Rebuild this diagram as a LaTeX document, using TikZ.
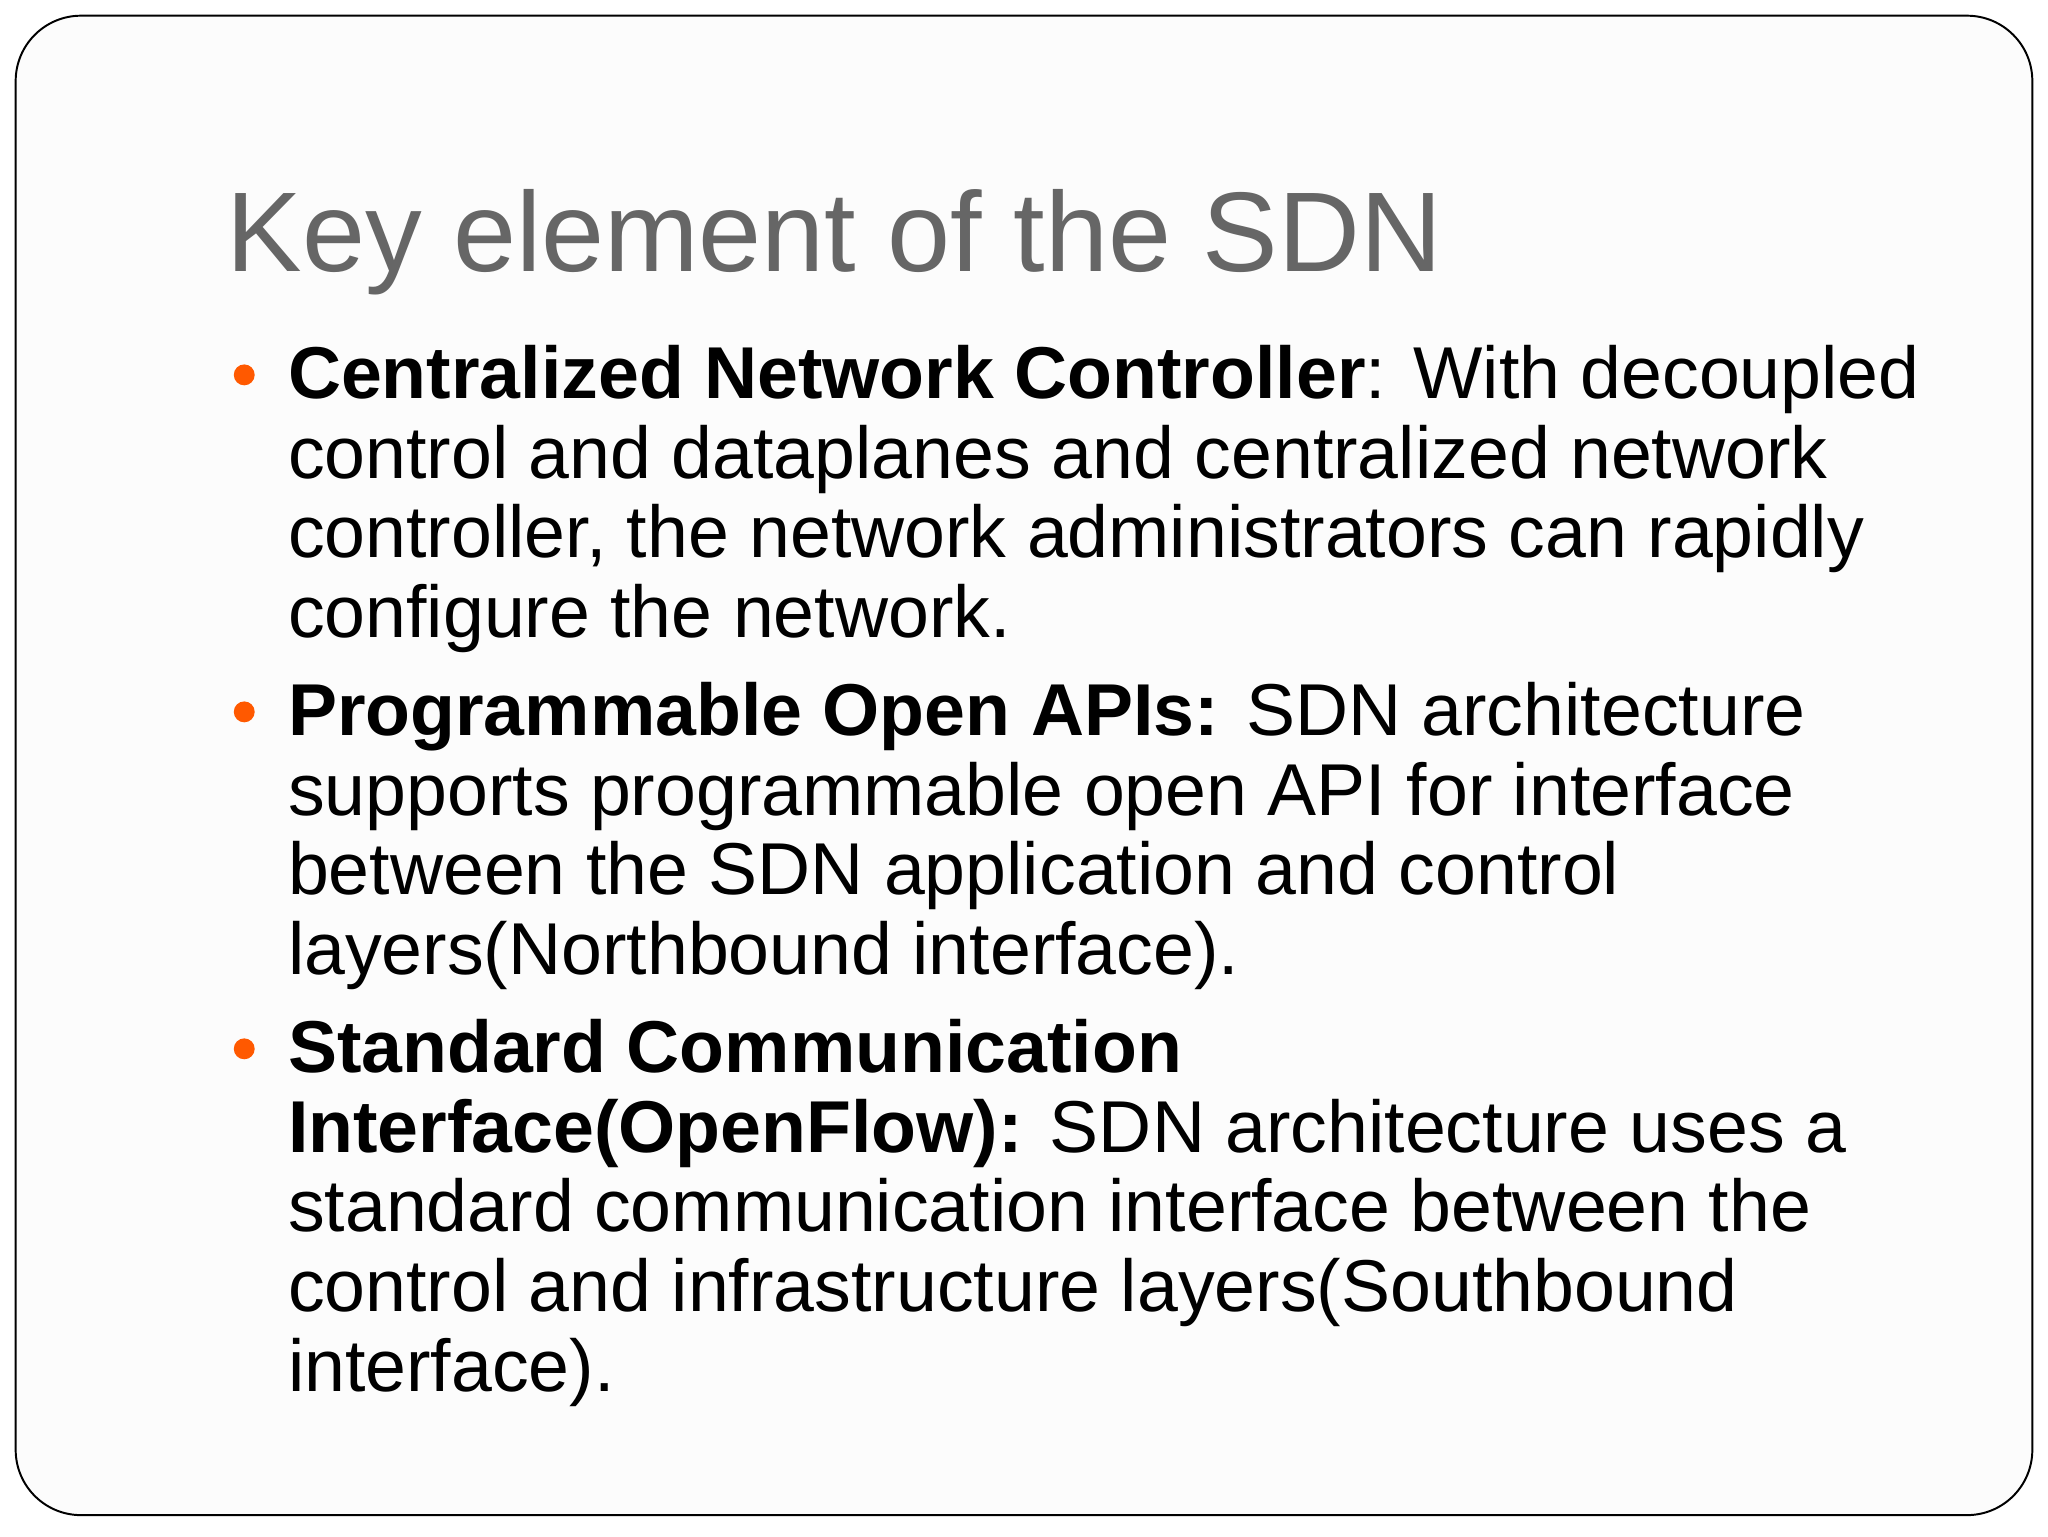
\documentclass[tikz,border=0pt]{standalone}
\usepackage{fontspec}
\setmainfont{Liberation Sans}
\begin{document}
\begin{tikzpicture}[x=0.4pt,y=-0.4pt,
  body/.style={anchor=base west,align=left,inner sep=0pt,font=\fontsize{22.5}{24.4}\selectfont,text=black},
  bul/.style={circle,fill=orange!70!red,inner sep=0pt,minimum size=6.4pt}]
\useasboundingbox (0,0) rectangle (1568,1176);
\draw[line width=0.6pt,fill=white!98!gray,rounded corners=20pt] (12,12) rectangle (1556,1160);
\node[anchor=base west,inner sep=0pt,text=black!60,font=\fontsize{34.7}{38}\selectfont] (title) at (173,208) {Key element of the SDN};
\node[bul] (b1) at (187,287) {};
\node[body] (t1) at (220,488) {\textbf{Centralized Network Controller}: With decoupled\\control and dataplanes and centralized network\\controller, the network administrators can rapidly\\configure the network.};
\node[bul] (b2) at (187,545) {};
\node[body] (t2) at (220,746) {\textbf{Programmable Open APIs:} SDN architecture\\supports programmable open API for interface\\between the SDN application and control\\layers(Northbound interface).};
\node[bul] (b3) at (187,803) {};
\node[body] (t3) at (220,1065) {\textbf{Standard Communication}\\\textbf{Interface(OpenFlow):} SDN architecture uses a\\standard communication interface between the\\control and infrastructure layers(Southbound\\interface).};
\end{tikzpicture}
\end{document}
